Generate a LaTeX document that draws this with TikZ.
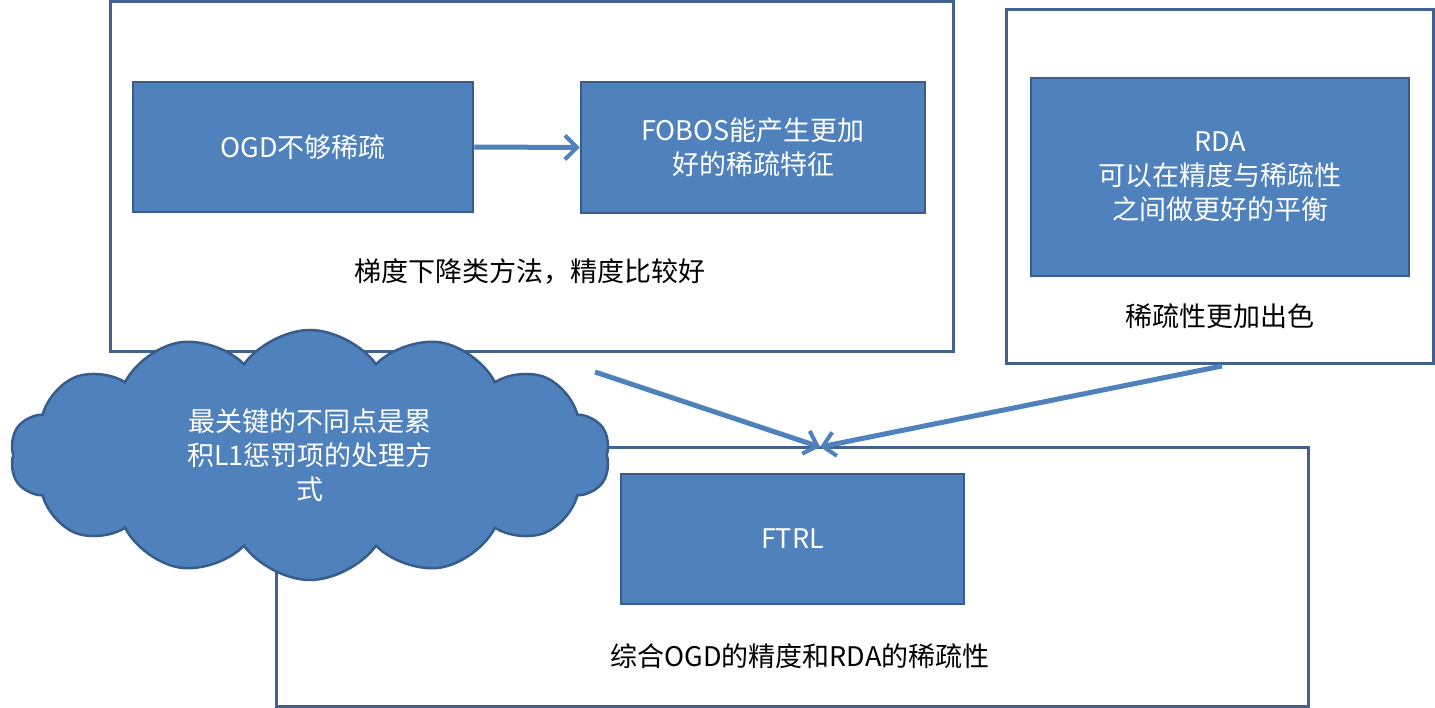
\documentclass[tikz,border=0pt]{standalone}
\usepackage{fontspec}
\setmainfont{Carlito}
\newfontfamily\cjk{Noto Sans CJK SC}
\usetikzlibrary{shapes.symbols,arrows.meta}
\definecolor{bfill}{HTML}{4F81BD}
\definecolor{bline}{HTML}{385D8A}
\definecolor{fline}{HTML}{42618F}
\begin{document}
\begin{tikzpicture}[x=1pt,y=-1pt,
  frame/.style={draw=fline,line width=3pt,fill=white},
  bbox/.style={draw=bline,line width=2.5pt,fill=bfill,text=white,font=\fontsize{27}{34}\selectfont\cjk,align=center},
  lbl/.style={font=\fontsize{27}{34}\selectfont\cjk,align=center},
  arr/.style={draw=bfill,line width=5pt,-{Straight Barb[length=12pt,width=24pt,line width=4pt]}}]
\useasboundingbox (0,0) rectangle (1435,708);
\draw[frame] (110,2) rectangle (953,352);
\draw[frame] (1006,10) rectangle (1433,364);
\draw[frame] (276,447) rectangle (1308,706);
\node[bbox,minimum width=340pt,minimum height=130pt] (ogd) at (303,147) {OGD不够稀疏};
\node[bbox,minimum width=344pt,minimum height=131pt] (fobos) at (753,147.5) {FOBOS能产生更加\\好的稀疏特征};
\node[bbox,minimum width=378pt,minimum height=198pt] (rda) at (1220,177) {RDA\\可以在精度与稀疏性\\之间做更好的平衡};
\node[bbox,minimum width=343pt,minimum height=130pt] (ftrl) at (792.5,539) {FTRL};
\node[lbl] (l1) at (530,272) {梯度下降类方法，精度比较好};
\node[lbl] (l2) at (1220,316) {稀疏性更加出色};
\node[lbl] (l3) at (800,656) {综合OGD的精度和RDA的稀疏性};
\coordinate (s1) at (595,372);
\coordinate (s2) at (1222,366);
\coordinate (t) at (820,447);
\draw[arr] (ogd.east) -- (fobos.west);
\draw[arr] (s1) -- (t);
\draw[arr] (s2) -- (t);
\node[cloud,cloud puffs=14,cloud puff arc=110,aspect=2.4,draw=bline,line width=2.5pt,fill=bfill,text=white,minimum width=600pt,minimum height=250pt,inner sep=0pt,font=\fontsize{27}{34}\selectfont\cjk,align=center] (cloud) at (310,455) {最关键的不同点是累\\积L1惩罚项的处理方\\式};
\end{tikzpicture}
\end{document}
